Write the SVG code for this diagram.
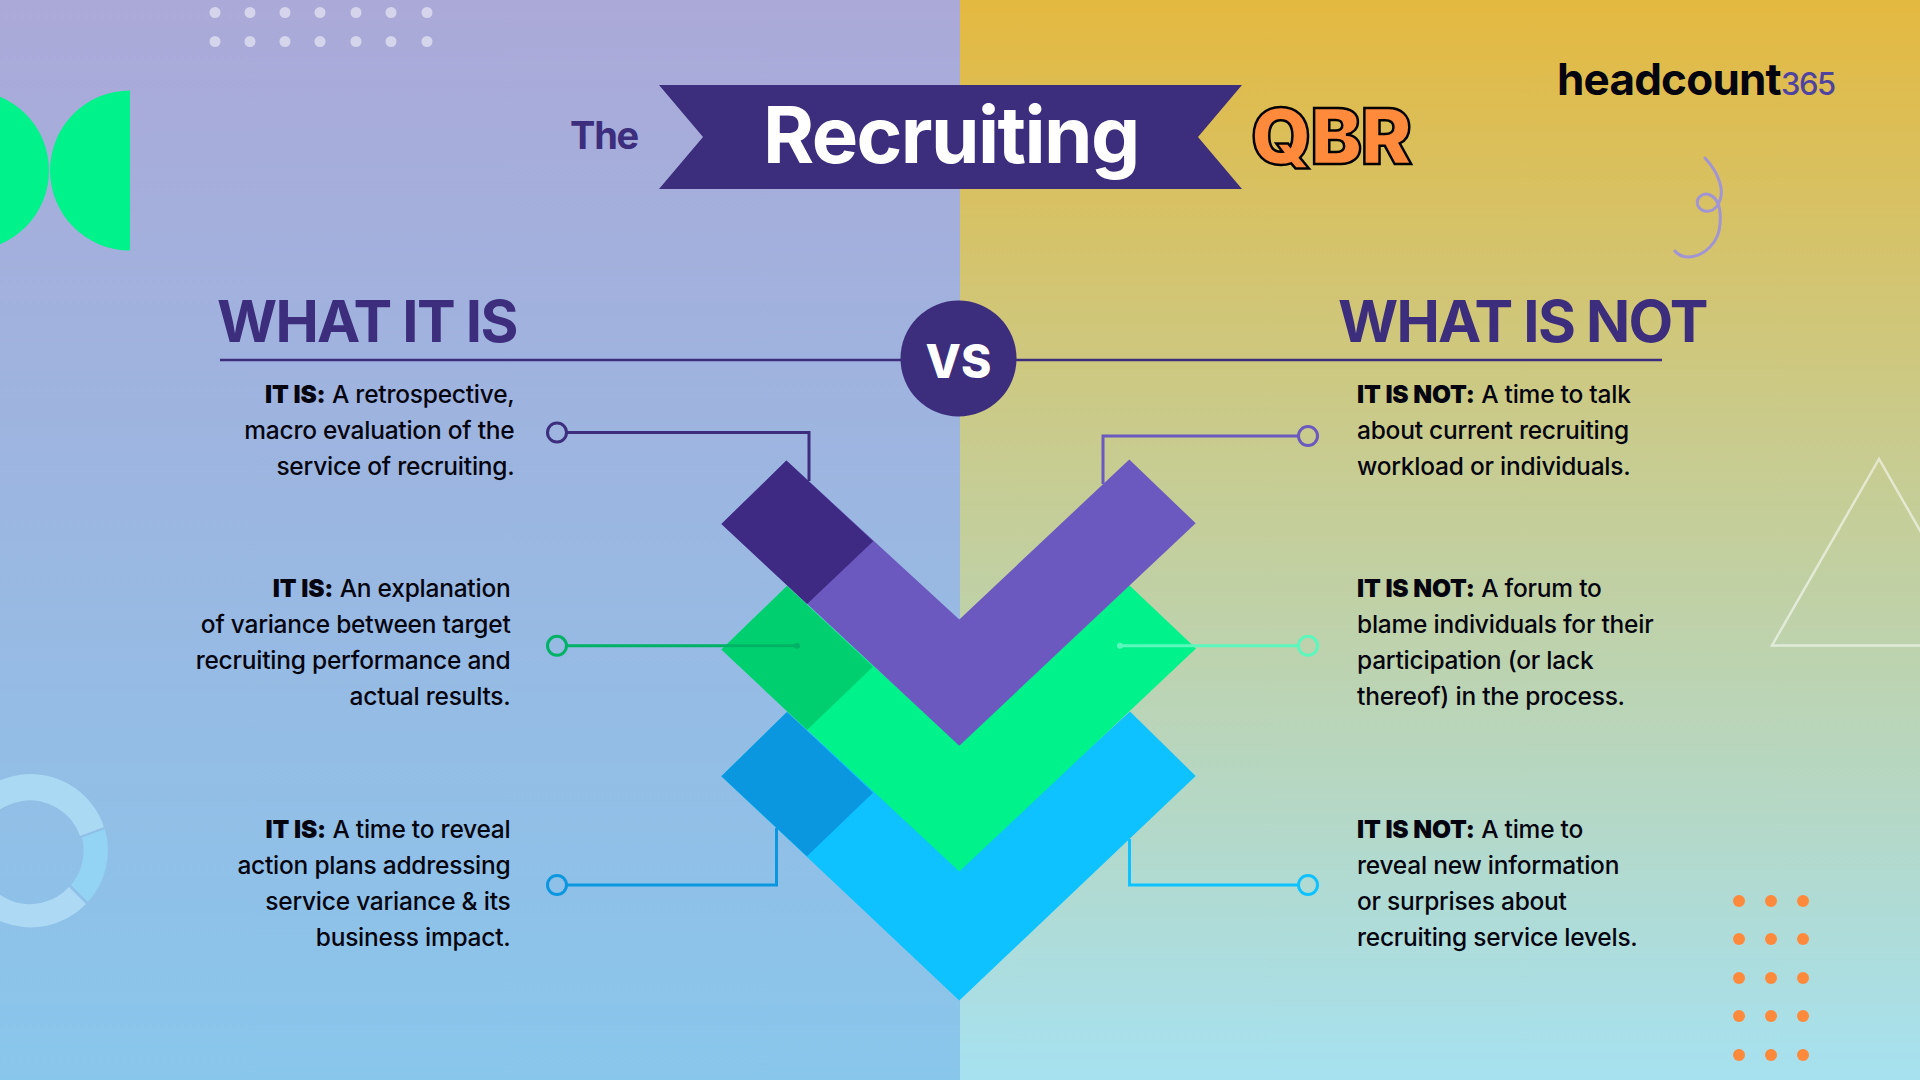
<svg xmlns="http://www.w3.org/2000/svg" width="1920" height="1080" viewBox="0 0 1920 1080">
<style>
text{font-family:Inter,"Liberation Sans",sans-serif}
.b{font-size:24.500px;fill:#050510;font-weight:500;letter-spacing:-.23px}
.b tspan.k{font-weight:900;letter-spacing:-.15px}
.r{text-anchor:end}
.h{font-size:58px;font-weight:700;fill:#3c2d7d;letter-spacing:-1.750px}
.c{fill:none;stroke-width:3}
.o{fill:#ff8a3c}
.w{fill:#fff;fill-opacity:.5}
</style>
<defs>
<linearGradient id="gl" x1="0" y1="0" x2="0" y2="1"><stop offset="0" stop-color="#aba9d8"/><stop offset="1" stop-color="#89c6eb"/></linearGradient>
<linearGradient id="gr" x1="0" y1="0" x2="0" y2="1"><stop offset="0" stop-color="#e4b940"/><stop offset=".4" stop-color="#c9cb8c"/><stop offset="1" stop-color="#a6e1f0"/></linearGradient>
</defs>
<rect width="960" height="1080" fill="url(#gl)"/>
<rect x="960" width="960" height="1080" fill="url(#gr)"/>

<g id="decor">
<path d="M130 90.500A80 80 0 0 0 130 250.500Z" fill="#00f28a"/>
<path d="M-31 90.500A80 80 0 0 1 -31 250.500Z" fill="#00f28a"/>
<g class="w">
<circle cx="215" cy="12.500" r="5.500"/><circle cx="250" cy="12.500" r="5.500"/><circle cx="285" cy="12.500" r="5.500"/><circle cx="320" cy="12.500" r="5.500"/><circle cx="356" cy="12.500" r="5.500"/><circle cx="391" cy="12.500" r="5.500"/><circle cx="427" cy="12.500" r="5.500"/>
<circle cx="215" cy="41.500" r="5.500"/><circle cx="250" cy="41.500" r="5.500"/><circle cx="285" cy="41.500" r="5.500"/><circle cx="320" cy="41.500" r="5.500"/><circle cx="356" cy="41.500" r="5.500"/><circle cx="391" cy="41.500" r="5.500"/><circle cx="427" cy="41.500" r="5.500"/>
</g>
<path d="M104 827A77.500 77.500 0 0 0 -47 850.500H-23A53 53 0 0 1 80 836Z" fill="#a9d9f3"/>
<path d="M105 829A77.500 77.500 0 0 1 88 902L71 885A53 53 0 0 0 82 837.500Z" fill="#93d3f3"/>
<path d="M86 904A77.500 77.500 0 0 1 -47 850.500H-23A53 53 0 0 0 69 887Z" fill="#aed9f5"/>
<path d="M1705 158C1718 172 1727 192 1717 206C1712 213 1702 213 1698 206C1695 198 1703 192 1710 195C1719 199 1721 212 1720 224C1719 243 1704 256 1689 257C1683 257 1678 255 1675 251" fill="none" stroke="#a195d4" stroke-width="3" stroke-linecap="round"/>
<path d="M1879 459L1772 645.500H1986Z" fill="none" stroke="#fff" stroke-opacity=".55" stroke-width="2.500"/>
<g class="o">
<circle cx="1739" cy="901" r="6"/><circle cx="1771" cy="901" r="6"/><circle cx="1803" cy="901" r="6"/>
<circle cx="1739" cy="939" r="6"/><circle cx="1771" cy="939" r="6"/><circle cx="1803" cy="939" r="6"/>
<circle cx="1739" cy="978" r="6"/><circle cx="1771" cy="978" r="6"/><circle cx="1803" cy="978" r="6"/>
<circle cx="1739" cy="1016" r="6"/><circle cx="1771" cy="1016" r="6"/><circle cx="1803" cy="1016" r="6"/>
<circle cx="1739" cy="1055" r="6"/><circle cx="1771" cy="1055" r="6"/><circle cx="1803" cy="1055" r="6"/>
</g>
</g>

<g id="title">
<path d="M659 85H1242L1198 137L1242 189H659L703 137Z" fill="#3c2d7d"/>
<text x="570" y="149" font-size="38" font-weight="700" fill="#3c2d7d" letter-spacing="-1.200">The</text>
<text x="763" y="163" font-size="78" font-weight="700" fill="#fff" letter-spacing="-1.600">Recruiting</text>
<text x="1251" y="164" font-size="77" font-weight="900" fill="#ff8a3c" stroke="#000" stroke-width="2.500" letter-spacing="-1.200">QBR</text>
</g>

<g id="logo">
<text x="1557" y="94.500" font-size="44" font-weight="700" fill="#050510" letter-spacing="-.8">headcount</text>
<text x="1781" y="94.500" font-size="31" font-weight="500" fill="#4f43a0" letter-spacing="-1.500">365</text>
</g>

<g id="heading-left"><text class="h" x="217" y="342">WHAT IT IS</text></g>
<g id="heading-right"><text class="h" x="1338" y="342">WHAT IS NOT</text></g>

<g id="dividers" stroke="#3c2d7d" stroke-width="2.500"><path d="M220 360H910M1010 360H1662"/></g>
<g id="vs">
<circle cx="958.500" cy="358.500" r="58" fill="#3c2d7d"/>
<text x="958.500" y="378" font-size="46" font-weight="800" fill="#fff" text-anchor="middle">VS</text>
</g>

<g id="chevron-blue">
<path d="M787 712L959.300 867L1130 711.600L1195.700 776L959.300 1000.600L721.400 776.300Z" fill="#0dc2ff"/>
<path d="M787 712L873 792.800L807 856.300L721.400 776.300Z" fill="#0a97df"/>
</g>
<g id="chevron-green">
<path d="M787 586L959.300 745L1129.300 585.300L1196 648.500L959.300 871.600L721.400 649.600Z" fill="#00f28a"/>
<path d="M787 586L873 666.800L807 730L721.400 649.600Z" fill="#00cf70"/>
</g>
<g id="chevron-purple">
<path d="M786.400 460.600L959.300 619.400L1129.300 459.400L1195.700 523.300L959.300 745.700L721.400 524Z" fill="#6b59c0"/>
<path d="M786.400 460.600L873.200 541.300L807.100 604L721.400 524Z" fill="#3e2a82"/>
</g>

<g id="connectors">
<path class="c" stroke="#3c2d7d" d="M567 432.500H809V481"/>
<circle class="c" stroke="#3c2d7d" cx="557" cy="432.500" r="9.500"/>
<path class="c" stroke="#6b59c0" d="M1298 436H1103V484"/>
<circle class="c" stroke="#6b59c0" cx="1308" cy="436" r="9.500"/>
<path class="c" stroke="#00b265" d="M567 645.800H797"/>
<circle class="c" stroke="#00b265" cx="557" cy="645.800" r="9.500"/>
<circle cx="797" cy="645.800" r="3" fill="#00b265"/>
<path class="c" stroke="#5cf7bd" d="M1298 645.800H1120"/>
<circle class="c" stroke="#5cf7bd" cx="1308" cy="645.800" r="9.500"/>
<circle cx="1120" cy="645.800" r="3" fill="#5cf7bd"/>
<path class="c" stroke="#0a97df" d="M567 885H776.500V828"/>
<circle class="c" stroke="#0a97df" cx="557" cy="885" r="9.500"/>
<path class="c" stroke="#0dc2ff" d="M1298 885H1129.500V839"/>
<circle class="c" stroke="#0dc2ff" cx="1308" cy="885" r="9.500"/>
</g>

<g id="is-1">
<text class="b r" x="514.500" y="403"><tspan class="k">IT IS:</tspan> A retrospective,</text>
<text class="b r" x="514.500" y="439">macro evaluation of the</text>
<text class="b r" x="514.500" y="475">service of recruiting.</text>
</g>
<g id="is-2">
<text class="b r" x="510.500" y="597"><tspan class="k">IT IS:</tspan> An explanation</text>
<text class="b r" x="510.500" y="633">of variance between target</text>
<text class="b r" x="510.500" y="669">recruiting performance and</text>
<text class="b r" x="510.500" y="705">actual results.</text>
</g>
<g id="is-3">
<text class="b r" x="510.500" y="838"><tspan class="k">IT IS:</tspan> A time to reveal</text>
<text class="b r" x="510.500" y="874">action plans addressing</text>
<text class="b r" x="510.500" y="910">service variance &amp; its</text>
<text class="b r" x="510.500" y="946">business impact.</text>
</g>
<g id="not-1">
<text class="b" x="1357" y="403"><tspan class="k">IT IS NOT:</tspan> A time to talk</text>
<text class="b" x="1357" y="439">about current recruiting</text>
<text class="b" x="1357" y="475">workload or individuals.</text>
</g>
<g id="not-2">
<text class="b" x="1357" y="597"><tspan class="k">IT IS NOT:</tspan> A forum to</text>
<text class="b" x="1357" y="633">blame individuals for their</text>
<text class="b" x="1357" y="669">participation (or lack</text>
<text class="b" x="1357" y="705">thereof) in the process.</text>
</g>
<g id="not-3">
<text class="b" x="1357" y="838"><tspan class="k">IT IS NOT:</tspan>&#160;A time to</text>
<text class="b" x="1357" y="874">reveal new information</text>
<text class="b" x="1357" y="910">or surprises about</text>
<text class="b" x="1357" y="946">recruiting service levels.</text>
</g>
</svg>
